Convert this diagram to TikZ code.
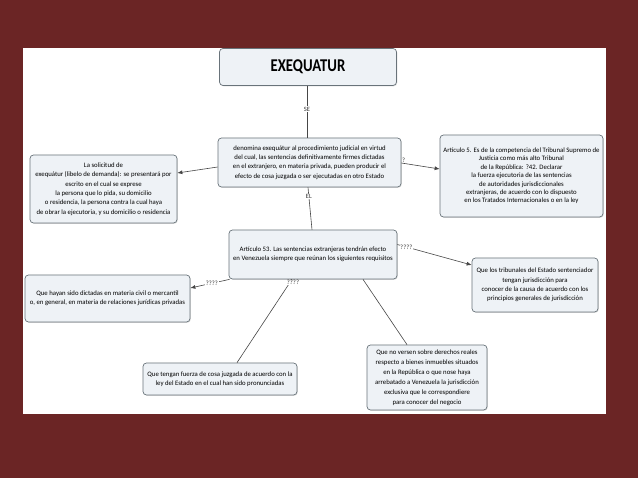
\documentclass[tikz,border=0pt]{standalone}
\usepackage{fontspec}
\setmainfont{Carlito}
\usetikzlibrary{arrows.meta,shadows}
\definecolor{maroon}{RGB}{107,37,37}
\definecolor{boxfill}{RGB}{238,242,246}
\definecolor{boxline}{RGB}{105,115,122}
\definecolor{conn}{RGB}{70,70,70}
\tikzset{
  box/.style={draw=boxline, fill=boxfill, rounded corners=3.5pt, line width=0.7pt,
    align=center, inner sep=1pt,
    font=\fontsize{6.75}{9.4}\selectfont,
    drop shadow={shadow xshift=0.8pt, shadow yshift=-0.8pt, opacity=0.25}},
  conline/.style={draw=conn, line width=0.6pt},
  arr/.style={conline, -{Latex[length=5pt,width=4pt]}},
  lbl/.style={font=\fontsize{6.5}{7}\selectfont, fill=white, inner sep=0.6pt, text=black!80}
}
\begin{document}
\begin{tikzpicture}[x=1pt,y=-1pt]
\useasboundingbox (0,0) rectangle (638,478);
\fill[maroon] (0,0) rectangle (638,478);
\fill[white] (23,48) rectangle (606,414);

\node[box, minimum width=177pt, minimum height=37pt, font=\fontsize{18}{18}\bfseries] (t) at (308,67) {\scalebox{0.82}[1]{EXEQUATUR}};

\node[box, minimum width=183pt, minimum height=49pt] (c) at (309.5,162.5)
 {denomina exequátur al procedimiento judicial en virtud\\del cual, las sentencias definitivamente firmes dictadas\\en el extranjero, en materia privada, pueden producir el\\efecto de cosa juzgada o ser ejecutadas en otro Estado};

\node[box, minimum width=147pt, minimum height=68pt] (l) at (103.5,189)
 {La solicitud de\\exequátur (libelo de demanda): se presentará por\\escrito en el cual se exprese\\la persona que lo pida, su domicilio\\o residencia, la persona contra la cual haya\\de obrar la ejecutoria, y su domicilio o residencia};

\node[box, minimum width=163pt, minimum height=82pt, font=\fontsize{6.75}{8.4}\selectfont] (r) at (521.5,176)
 {Artículo 5. Es de la competencia del Tribunal Supremo de\\Justicia como más alto Tribunal\\de la República: ?42. Declarar\\la fuerza ejecutoria de las sentencias\\de autoridades jurisdiccionales\\extranjeras, de acuerdo con lo dispuesto\\en los Tratados Internacionales o en la ley};

\node[box, minimum width=168pt, minimum height=49pt] (m) at (313,254.5)
 {Artículo 53. Las sentencias extranjeras tendrán efecto\\en Venezuela siempre que reúnan los siguientes requisitos};

\node[box, minimum width=126pt, minimum height=54pt] (r2) at (535,285)
 {Que los tribunales del Estado sentenciador\\tengan jurisdicción para\\conocer de la causa de acuerdo con los\\principios generales de jurisdicción};

\node[box, minimum width=165pt, minimum height=47pt] (l2) at (107.5,298.5)
 {Que hayan sido dictadas en materia civil o mercantil\\o, en general, en materia de relaciones jurídicas privadas};

\node[box, minimum width=154pt, minimum height=32pt] (bl) at (220,379)
 {Que tengan fuerza de cosa juzgada de acuerdo con la\\ley del Estado en el cual han sido pronunciadas};

\node[box, minimum width=120pt, minimum height=65pt, font=\fontsize{6.75}{10}\selectfont] (br) at (427,377.5)
 {Que no versen sobre derechos reales\\respecto a bienes inmuebles situados\\en la República o que nose haya\\arrebatado a Venezuela la jurisdicción\\exclusiva que le correspondiere\\para conocer del negocio};

% connectors
\draw[conline] ([xshift=-1pt]t.south) -- node[lbl, pos=0.45] {SE} ([xshift=-2.5pt]c.north);
\draw[conline] ([xshift=-1.5pt]c.south) -- node[lbl, pos=0.22] {EL} ([xshift=-1pt]m.north);
\draw[arr] ([yshift=-4.5pt]c.west) -- ([yshift=16pt]l.east);
\draw[arr] ([yshift=-0.5pt]c.east) -- node[lbl, pos=0.06, above=-0.5pt, fill=none] {?} ([yshift=7pt]r.west);
\draw[arr] ([yshift=10pt]m.east) -- node[lbl, pos=0.12] {????} ([yshift=20pt]r2.west);
\draw[arr] ([xshift=1pt]m.south west) -- node[lbl, pos=0.45] {????} ([yshift=10.5pt]l2.east);
\draw[conline] ([xshift=-21pt]m.south) -- ([xshift=17pt]bl.north);
\node[lbl, anchor=north, inner sep=0.3pt] (q3) at ([xshift=-20pt,yshift=-0.5pt]m.south) {????};
\draw[conline] ([xshift=50pt]m.south) -- ([xshift=-20pt]br.north);
\end{tikzpicture}
\end{document}
